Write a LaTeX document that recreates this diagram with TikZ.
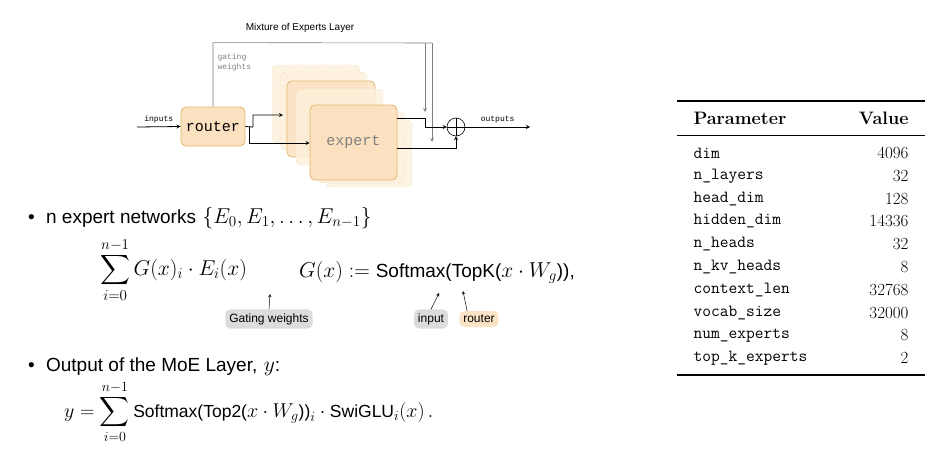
\RequirePackage{fix-cm}
\documentclass[tikz,border=0pt]{standalone}
\usepackage{amsmath}
\usepackage[no-math]{fontspec}
\setsansfont{Liberation Sans}
\newfontfamily\cour{Liberation Mono}
\usepackage{xcolor}
\usepackage{tikz}
\usetikzlibrary{calc, positioning}

\definecolor{moefill}{HTML}{FBE1C0}
\definecolor{moeedge}{HTML}{E2B56E}
\definecolor{ghostfill}{HTML}{FDF0DC}
\definecolor{chipgray}{HTML}{DCDCDC}
\definecolor{chiporange}{HTML}{FBE3C6}

\newcommand{\sftxt}[1]{\text{\fontsize{19}{22}\sffamily #1}}
\newcommand{\sftxtb}[1]{\text{\fontsize{17.5}{20}\sffamily #1}}

\tikzset{
    block/.style={draw=moeedge, fill=moefill, rounded corners=5pt, line width=0.8pt},
    ghost/.style={draw=moeedge!60, dashed, fill=ghostfill, rounded corners=5pt, opacity=0.8},
    chip/.style={rounded corners=5pt, inner sep=4pt, font=\sffamily\fontsize{12}{14}\selectfont},
    gate/.style={gray, line width=0.6pt},
    flow/.style={->, >=stealth, line width=0.8pt},
    small/.style={font=\cour\fontsize{8}{10}\selectfont},
    formula/.style={font=\fontsize{21.5}{26}\selectfont, inner sep=0pt},
}

\begin{document}
\begin{tikzpicture}[x=1pt, y=-1pt]
        \useasboundingbox (0,0) rectangle (938,474);

        % MoE layer sketch
        \node[font=\sffamily\fontsize{10}{12}\selectfont] (title) at (300,28) {Mixture of Experts Layer};

        \draw[ghost] (272,65) rectangle (360,143);
        \draw[ghost] (280,72) rectangle (367,150);
        \draw[block, fill opacity=0.8] (287,81) rectangle (375,157);
        \draw[ghost] (296,89) rectangle (383,165);
        \draw[ghost] (326,120) rectangle (412,187);
        \draw[ghost] (318,112) rectangle (405,183);
        \node[block, minimum width=87pt, minimum height=75pt, text=gray, font=\cour\fontsize{15}{17}\selectfont] (expert) at (353.5,142.5) {expert};

        \node[block, minimum width=64pt, minimum height=39pt, font=\cour\fontsize{15}{17}\selectfont] (router) at (213,126.5) {router};
        \draw[line width=0.6pt] (456,127) circle (9);
        \node[circle, minimum size=18pt, inner sep=0pt] (sum) at (456,127) {};
        \draw (sum.north) -- (sum.south) (sum.west) -- (sum.east);

        \coordinate (in) at (137,127);
        \coordinate (out) at (530,127);
        \draw[flow] (in) -- (router.west) node[midway, above, small] {inputs};
        \draw[flow] (sum.east) -- (out) node[midway, above, small] {outputs};

        % gating weights path
        \draw[gate] (router.north) -- ++(0,-64) coordinate (g1) -- (432,43) coordinate (g2);
        \draw[gate, flow] (425,43) -- (425,112);
        \draw[gate, flow] (g2) -- (432,142);
        \node[small, gray, align=left, anchor=north west] (gw) at (214,50) {gating\\weights};

        % dispatch to experts
        \draw[flow] (router.east) -- (253,127) -- (253,115) -- (283,115);
        \draw[flow] (249,127) -- (249,143) -- (expert.west |- 0,143);
        \draw[flow] (expert.east |- 0,118) -- (425,118) -- (425,127) -- (sum.west);
        \draw[flow] (expert.east |- 0,148) -- (456,148) -- (sum.south);

        % formulas
        \node[anchor=base west, formula] (b1) at (28,223)
            {\sftxt{\textbullet\hspace{6pt} n expert networks} $\{E_0, E_1, \ldots, E_{n-1}\}$};
        \node[anchor=west, formula] (sumG) at (100,270)
            {$\displaystyle\sum_{i=0}^{n-1} G(x)_i \cdot E_i(x)$};
        \node[anchor=base west, formula] (Gdef) at (299,277)
            {$G(x) := \sftxt{Softmax(TopK(}x \cdot W_g\sftxt{)),}$};

        \node[chip, fill=chipgray] (cgw) at (269,319) {Gating weights};
        \node[chip, fill=chipgray] (cin) at (431,319) {input};
        \node[chip, fill=chiporange] (crt) at (479,319) {router};
        \coordinate (Gx) at (270,294);
        \coordinate (xin) at (439,293);
        \coordinate (Wg) at (463,291);
        \draw[flow, line width=0.5pt] (cgw.north) -- (Gx);
        \draw[flow, line width=0.5pt] (cin.north) -- (xin);
        \draw[flow, line width=0.5pt] (crt.north west) ++(8,0) -- (Wg);

        \node[anchor=base west, formula] (b2) at (28,371)
            {\sftxt{\textbullet\hspace{6pt} Output of the MoE Layer,} $y$\sftxt{:}};
        \node[anchor=west, formula, font=\fontsize{20}{24}\selectfont] (ydef) at (64,412)
            {$\displaystyle y = \sum_{i=0}^{n-1} \sftxtb{Softmax(Top2(}x \cdot W_g\sftxtb{))}_i \cdot \sftxtb{SwiGLU}_i(x)\,.$};

        % parameter table
        \coordinate (tl) at (677,101);
        \coordinate (tr) at (925,101);
        \draw[line width=1.4pt] (tl) -- (tr);
        \draw[line width=0.8pt] ($(tl)+(0,34)$) -- ($(tr)+(0,34)$);
        \draw[line width=1.4pt] ($(tl)+(0,274)$) -- ($(tr)+(0,274)$);
        \node[anchor=west, font=\bfseries\fontsize{18}{20}\selectfont] (hp) at (690,118) {Parameter};
        \node[anchor=east, font=\bfseries\fontsize{18}{20}\selectfont] (hv) at (912,118) {Value};
        \foreach \name/\val [count=\k from 0] in {dim/4096, n\_layers/32, head\_dim/128,
                hidden\_dim/14336, n\_heads/32, n\_kv\_heads/8, context\_len/32768,
                vocab\_size/32000, num\_experts/8, top\_k\_experts/2} {
            \node[anchor=west, font=\ttfamily\fontsize{17}{20}\selectfont] (p\k) at (690,153+22.8*\k) {\name};
            \node[anchor=east, font=\fontsize{17}{20}\selectfont] (v\k) at (912,153+22.8*\k) {\val};
        }
\end{tikzpicture}
\end{document}
